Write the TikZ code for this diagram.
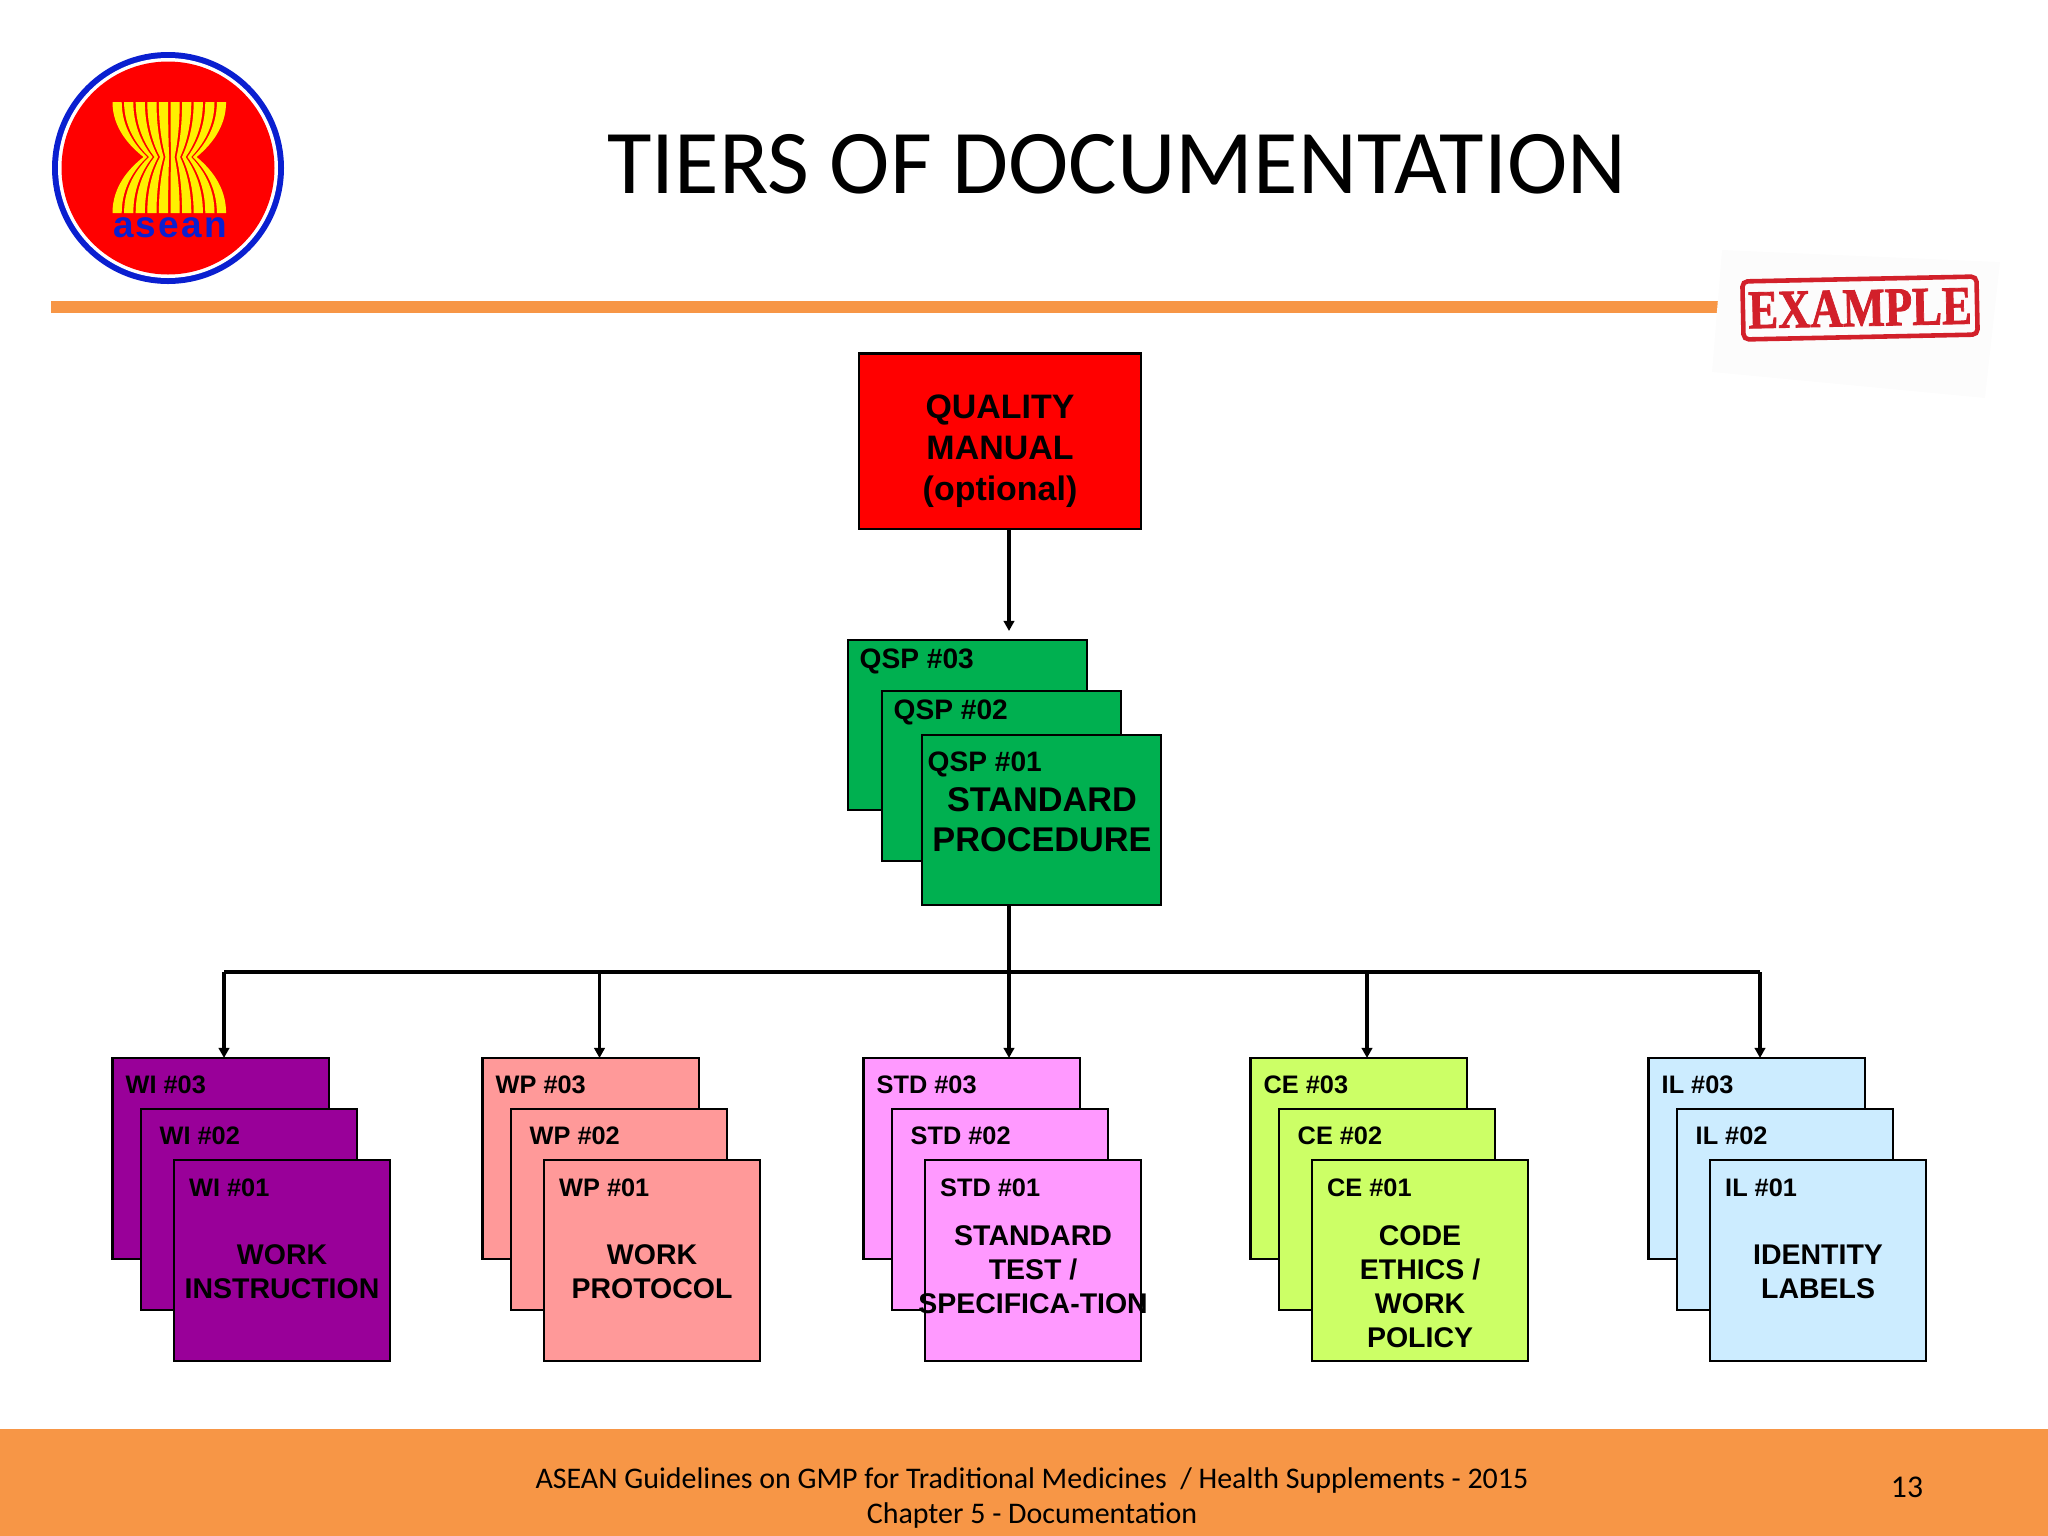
\documentclass[tikz,border=0pt]{standalone}
\usepackage{fontspec}
\setmainfont{Liberation Sans}
\newfontfamily\slidefont{Carlito}
\newfontfamily\stampfont[BoldFeatures={FakeBold=1.6}]{Liberation Serif}
\usetikzlibrary{arrows.meta}

\definecolor{barorange}{HTML}{F79646}
\definecolor{qmred}{HTML}{FF0000}
\definecolor{qspgreen}{HTML}{00B050}
\definecolor{wipurple}{HTML}{990099}
\definecolor{wppink}{HTML}{FF9999}
\definecolor{stdpink}{HTML}{FF99FF}
\definecolor{celime}{HTML}{CCFF66}
\definecolor{ilblue}{HTML}{CCECFF}
\definecolor{logoblue}{HTML}{0A1FD0}
\definecolor{logoyellow}{HTML}{FFF000}
\definecolor{stampred}{HTML}{D2202A}

\tikzset{
    sheet/.style={draw=black, line width=0.6pt, outer sep=0pt, inner sep=0pt},
    smallsheet/.style={sheet, minimum width=2.16cm, minimum height=2.01cm},
    widesheet/.style={sheet, minimum width=2.39cm, minimum height=1.70cm},
    sheetno/.style={anchor=west, inner sep=0pt, font=\fontsize{7.2}{8.5}\selectfont\bfseries},
    qspno/.style={anchor=west, inner sep=0pt, font=\fontsize{8}{9.5}\selectfont\bfseries},
    sheettext/.style={align=center, inner sep=0pt, font=\fontsize{8.1}{9.65}\selectfont\bfseries},
    bigtext/.style={align=center, inner sep=0pt, font=\fontsize{9.75}{11.5}\selectfont\bfseries},
    link/.style={draw=black, line width=0.9pt},
    drop/.style={link, -{Triangle[width=3pt,length=2.9pt]}},
}

\begin{document}
\begin{tikzpicture}[x=0.01cm,y=-0.01cm]
    \useasboundingbox (0,0) rectangle (2048,1536);

    % slide frame
    \fill[barorange] (51,301) rectangle (1718,313);
    \fill[barorange] (0,1429) rectangle (2048,1536);
    \node[font=\slidefont\fontsize{25.9}{30}\selectfont] (title) at (1117,164) {TIERS OF DOCUMENTATION};
    \node[align=center, inner sep=0pt, font=\slidefont\fontsize{8.52}{10.2}\selectfont] (footer) at (1032,1498)
        {ASEAN Guidelines on GMP for Traditional Medicines ~/ Health Supplements - 2015\\Chapter 5 - Documentation};
    \node[font=\slidefont\fontsize{9}{11}\selectfont] (pageno) at (1907,1487) {13};

    % logo
    \fill[logoblue] (168,168) circle (116);
    \fill[white] (168,168) circle (110);
    \fill[qmred] (168,168) circle (106.5);
    \foreach \i in {0,...,9} {
        \pgfmathsetmacro{\a}{112.5+\i*11.6}
        \pgfmathsetmacro{\b}{\a+9.2}
        \pgfmathsetmacro{\c}{143.5+\i*5.5}
        \pgfmathsetmacro{\d}{\c+3.6}
        \pgfmathsetmacro{\e}{\c+(\a-\c)*0.45}
        \pgfmathsetmacro{\f}{\d+(\b-\d)*0.45}
        \fill[logoyellow] (\a,102) .. controls (\a,128) and (\e,146) .. (\c,157)
            .. controls (\e,168) and (\a,186) .. (\a,213) -- (\b,213)
            .. controls (\b,186) and (\f,168) .. (\d,157)
            .. controls (\f,146) and (\b,128) .. (\b,102) -- cycle;
    }
    \node[text=logoblue, font=\fontsize{10.5}{13}\selectfont\bfseries\addfontfeatures{LetterSpace=6}] (logotext) at (170,228) {asean};

    % stamp
    \fill[black!1] (1722,250) -- (2000,262) -- (1985,398) -- (1712,372) -- cycle;
    \node[draw=stampred, line width=1.3pt, rounded corners=1.5pt, rotate=1.2, minimum width=2.34cm,
        minimum height=0.58cm, inner sep=0pt, text=stampred] (stamp) at (1860,308)
        {\scalebox{.82}[1]{\stampfont\fontsize{15.5}{16}\selectfont\bfseries EXAMPLE}};

    % top boxes
    \node[sheet, fill=qmred, minimum width=2.82cm, minimum height=1.75cm] (qm) at (1000,441) {};
    \node[bigtext, font=\fontsize{9.65}{11.6}\selectfont\bfseries] (qmtext) at (1000,451) {QUALITY\\MANUAL\\(optional)};

    \node[widesheet, fill=qspgreen, anchor=north west] (qsp3) at (848,640) {};
    \node[qspno] (qsp3no) at (859,661.5) {QSP \#03};
    \node[widesheet, fill=qspgreen, anchor=north west] (qsp2) at (882,691) {};
    \node[qspno] (qsp2no) at (893,712.5) {QSP \#02};
    \node[widesheet, fill=qspgreen, anchor=north west] (qsp1) at (922,735) {};
    \node[qspno] (qsp1no) at (927,764) {QSP \#01};
    \node[bigtext] (qsptext) at (1042,819.5) {STANDARD\\PROCEDURE};

    \coordinate (qmout) at (1009,529);
    \coordinate (qspin) at (1009,631);
    \coordinate (qspout) at (1009,905);
    \coordinate (busc) at (1009,972);
    \draw[drop] (qmout) -- (qspin);
    \draw[link] (qspout) -- (busc);

    % the five stacks
    \foreach \sid/\lab/\col/\xa/\xd/\dy/\txt in {
        wi/WI/wipurple/112.5/224/11/{WORK\\INSTRUCTION},
        wp/WP/wppink/482.5/599.5/11/{WORK\\PROTOCOL},
        std/STD/stdpink/863.5/1009/9/{STANDARD\\TEST /\\SPECIFICA-TION},
        ce/CE/celime/1250.5/1367/26/{CODE\\ETHICS /\\WORK\\POLICY},
        il/IL/ilblue/1648.5/1760/11/{IDENTITY\\LABELS}} {
        \pgfmathsetmacro{\xb}{\xa+28.5}
        \pgfmathsetmacro{\xc}{\xa+61.5}
        \node[smallsheet, fill=\col, anchor=north west] (\sid3) at (\xa,1058) {};
        \node[sheetno] (\sid3no) at ([shift={(12.5,27)}]\sid3.north west) {\lab{} \#03};
        \node[smallsheet, fill=\col, anchor=north west] (\sid2) at (\xb,1109) {};
        \node[sheetno] (\sid2no) at ([shift={(18,27)}]\sid2.north west) {\lab{} \#02};
        \node[smallsheet, fill=\col, anchor=north west] (\sid1) at (\xc,1160) {};
        \node[sheetno] (\sid1no) at ([shift={(14.5,28)}]\sid1.north west) {\lab{} \#01};
        \node[sheettext] (\sid text) at ([yshift=-\dy*0.01cm]\sid1.center) {\txt};
        \coordinate (\sid in) at (\xd,972);
        \draw[drop] (\sid in) -- (\sid in |- \sid3.north);
    }
    \draw[link] (wiin) -- (ilin);

\end{tikzpicture}
\end{document}
